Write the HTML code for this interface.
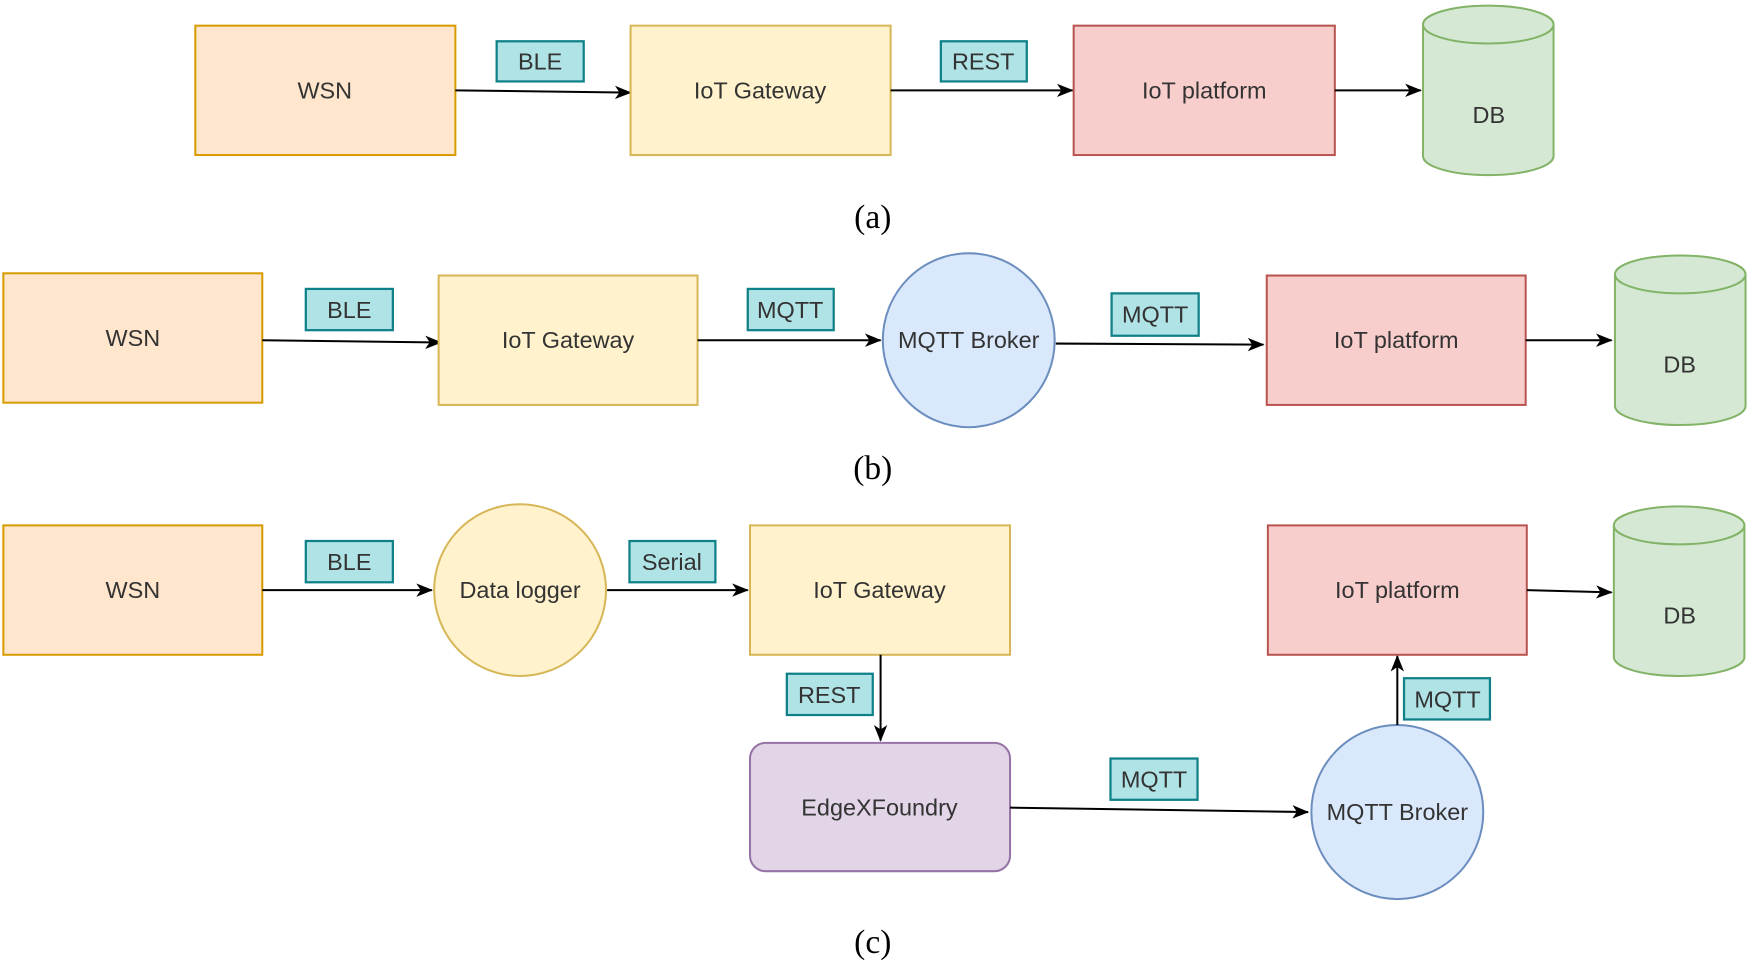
<!DOCTYPE html>
<html><head><meta charset="utf-8"><style>
html,body{margin:0;padding:0;background:#fff;width:1750px;height:966px;overflow:hidden}
svg{display:block}
.t{font-family:"Liberation Sans",Arial,sans-serif;font-size:21px;fill:#333;text-anchor:middle;dominant-baseline:central}
.cap{font-family:"Liberation Serif",serif;font-size:30px;fill:#000;text-anchor:middle;dominant-baseline:central}
.lab{fill:#b0e3e6;stroke:#0e8088;stroke-width:2}
.l{stroke:#000;stroke-width:1.8;fill:none;marker-end:url(#a)}
.or{fill:#ffe6cc;stroke:#d79b00;stroke-width:1.8}
.ye{fill:#fff2cc;stroke:#d6b656;stroke-width:1.8}
.re{fill:#f8cecc;stroke:#b85450;stroke-width:1.8}
.gr{fill:#d5e8d4;stroke:#82b366;stroke-width:1.8}
.bl{fill:#dae8fc;stroke:#6c8ebf;stroke-width:1.8}
.pu{fill:#e1d5e7;stroke:#9673a6;stroke-width:1.8}
</style></head><body>
<svg width="1750" height="966" viewBox="0 0 1568 866" preserveAspectRatio="none">
<defs><marker id="a" markerWidth="16" markerHeight="16" refX="14" refY="8" orient="auto" markerUnits="userSpaceOnUse"><path d="M0,2 L15,8 L0,14 L4,8 Z" fill="#000"/></marker></defs>
<!-- (a) -->
<rect class="or" x="175" y="23" width="233" height="116"/><text class="t" x="291" y="81">WSN</text>
<path class="l" d="M408,81 L565,83"/>
<rect class="lab" x="445" y="37" width="78" height="36"/><text class="t" x="484" y="55">BLE</text>
<rect class="ye" x="565" y="23" width="233" height="116"/><text class="t" x="681" y="81">IoT Gateway</text>
<path class="l" d="M798,81 L961,81"/>
<rect class="lab" x="843" y="37" width="77" height="36"/><text class="t" x="881" y="55">REST</text>
<rect class="re" x="962" y="23" width="234" height="116"/><text class="t" x="1079" y="81">IoT platform</text>
<path class="l" d="M1196,81 L1273,81"/>
<path class="gr" d="M1275,22 A58.5,17 0 0 1 1392,22 L1392,140 A58.5,17 0 0 1 1275,140 Z"/><path d="M1275,22 A58.5,17 0 0 0 1392,22" fill="none" stroke="#82b366" stroke-width="1.8"/>
<text class="t" x="1334" y="103">DB</text>
<text class="cap" x="782" y="195">(a)</text>
<!-- (b) -->
<rect class="or" x="3" y="245" width="232" height="116"/><text class="t" x="119" y="303">WSN</text>
<path class="l" d="M235,305 L395,307"/>
<rect class="lab" x="274" y="259" width="78" height="37"/><text class="t" x="313" y="278">BLE</text>
<rect class="ye" x="393" y="247" width="232" height="116"/><text class="t" x="509" y="305">IoT Gateway</text>
<path class="l" d="M625,305 L789,305"/>
<rect class="lab" x="670" y="259" width="77" height="37"/><text class="t" x="708" y="278">MQTT</text>
<ellipse class="bl" cx="868" cy="305" rx="77" ry="78"/><text class="t" x="868" y="305">MQTT Broker</text>
<path class="l" d="M946,308 L1132,309"/>
<rect class="lab" x="996" y="263" width="78" height="38"/><text class="t" x="1035" y="282">MQTT</text>
<rect class="re" x="1135" y="247" width="232" height="116"/><text class="t" x="1251" y="305">IoT platform</text>
<path class="l" d="M1367,305 L1444,305"/>
<path class="gr" d="M1447,246 A58.5,17 0 0 1 1564,246 L1564,364 A58.5,17 0 0 1 1447,364 Z"/><path d="M1447,246 A58.5,17 0 0 0 1564,246" fill="none" stroke="#82b366" stroke-width="1.8"/>
<text class="t" x="1505" y="327">DB</text>
<text class="cap" x="782" y="420">(b)</text>
<!-- (c) -->
<rect class="or" x="3" y="471" width="232" height="116"/><text class="t" x="119" y="529">WSN</text>
<path class="l" d="M235,529 L387,529"/>
<rect class="lab" x="274" y="485" width="78" height="37"/><text class="t" x="313" y="504">BLE</text>
<ellipse class="ye" cx="466" cy="529" rx="77" ry="77"/><text class="t" x="466" y="529">Data logger</text>
<path class="l" d="M544,529 L670,529"/>
<rect class="lab" x="564" y="485" width="77" height="37"/><text class="t" x="602" y="504">Serial</text>
<rect class="ye" x="672" y="471" width="233" height="116"/><text class="t" x="788" y="529">IoT Gateway</text>
<path class="l" d="M789,587 L789,664"/>
<rect class="lab" x="705" y="604" width="77" height="37"/><text class="t" x="743" y="623">REST</text>
<rect class="pu" x="672" y="666" width="233" height="115" rx="14"/><text class="t" x="788" y="724">EdgeXFoundry</text>
<path class="l" d="M905,724 L1172,728"/>
<rect class="lab" x="995" y="680" width="78" height="37"/><text class="t" x="1034" y="699">MQTT</text>
<ellipse class="bl" cx="1252" cy="728" rx="77" ry="78"/><text class="t" x="1252" y="728">MQTT Broker</text>
<path class="l" d="M1252,650 L1252,588"/>
<rect class="lab" x="1258" y="608" width="77" height="37"/><text class="t" x="1297" y="627">MQTT</text>
<rect class="re" x="1136" y="471" width="232" height="116"/><text class="t" x="1252" y="529">IoT platform</text>
<path class="l" d="M1368,529 L1444,531"/>
<path class="gr" d="M1446,471 A58.5,17 0 0 1 1563,471 L1563,589 A58.5,17 0 0 1 1446,589 Z"/><path d="M1446,471 A58.5,17 0 0 0 1563,471" fill="none" stroke="#82b366" stroke-width="1.8"/>
<text class="t" x="1505" y="552">DB</text>
<text class="cap" x="782" y="845">(c)</text>
</svg>
</body></html>
